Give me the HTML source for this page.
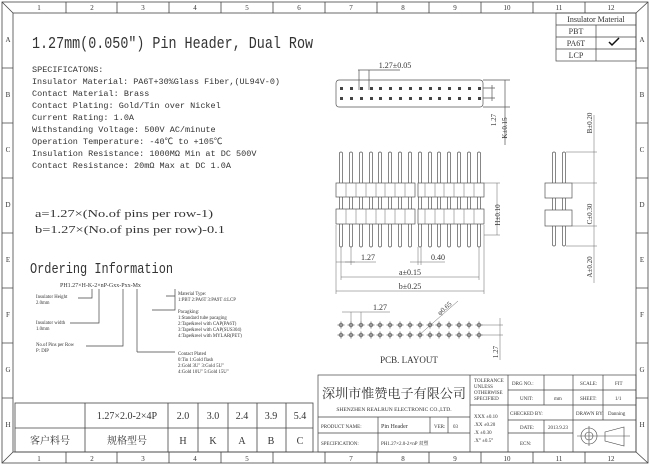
<!DOCTYPE html>
<html><head><meta charset="utf-8"><style>
html,body{margin:0;padding:0;background:#fff}
svg{display:block}
text{font-family:"Liberation Serif","Noto Serif CJK SC",serif;fill:#333}
.m{font-family:"Liberation Mono","Noto Sans CJK SC",monospace}
</style></head><body>
<svg width="650" height="465" viewBox="0 0 650 465" xmlns="http://www.w3.org/2000/svg">
<defs>
<g id="fp"><rect x="-1.5" y="152" width="3" height="95" rx="1.5" fill="#fff" stroke="#555" stroke-width="0.7"/></g>
<g id="cross" stroke="#555" stroke-width="0.7" fill="none"><circle r="1.8"/><line x1="-3.5" y1="0" x2="3.5" y2="0"/><line x1="0" y1="-3.5" x2="0" y2="3.5"/></g>
</defs>
<g fill="none" stroke="#444" stroke-width="0.8">
<rect x="2" y="2" width="646" height="461"/>
<rect x="13" y="13" width="623" height="439"/>
<line x1="2" y1="2" x2="13" y2="13"/><line x1="648" y1="2" x2="636" y2="13"/>
<line x1="2" y1="463" x2="13" y2="452"/><line x1="648" y1="463" x2="636" y2="452"/>
<path d="M66 2V13M117 2V13M169 2V13M221 2V13M273 2V13M325 2V13M377 2V13M429 2V13M481 2V13M533 2V13M585 2V13"/>
<path d="M66 452V463M117 452V463M169 452V463M221 452V463M273 452V463M325 452V463M377 452V463M429 452V463M481 452V463M533 452V463M585 452V463"/>
<path d="M2 68H13M2 123H13M2 178H13M2 233H13M2 288H13M2 343H13M2 398H13"/>
<path d="M636 68H648M636 123H648M636 178H648M636 233H648M636 288H648M636 343H648M636 398H648"/>
</g>
<g font-size="7" text-anchor="middle">
<text x="39" y="10">1</text><text x="92" y="10">2</text><text x="143" y="10">3</text><text x="195" y="10">4</text><text x="247" y="10">5</text><text x="299" y="10">6</text><text x="351" y="10">7</text><text x="403" y="10">8</text><text x="455" y="10">9</text><text x="507" y="10">10</text><text x="559" y="10">11</text><text x="611" y="10">12</text>
<text x="39" y="461">1</text><text x="92" y="461">2</text><text x="143" y="461">3</text><text x="195" y="461">4</text><text x="247" y="461">5</text><text x="351" y="461">7</text><text x="403" y="461">8</text><text x="455" y="461">9</text><text x="507" y="461">10</text><text x="559" y="461">11</text><text x="611" y="461">12</text>
<text x="8" y="42">A</text><text x="8" y="97">B</text><text x="8" y="152">C</text><text x="8" y="207">D</text><text x="8" y="262">E</text><text x="8" y="317">F</text><text x="8" y="372">G</text><text x="8" y="427">H</text>
<text x="642" y="42">A</text><text x="642" y="97">B</text><text x="642" y="152">C</text><text x="642" y="207">D</text><text x="642" y="262">E</text><text x="642" y="317">F</text><text x="642" y="372">G</text><text x="642" y="427">H</text>
</g>
<g fill="none" stroke="#444" stroke-width="0.7">
<rect x="556" y="13" width="80" height="48"/>
<path d="M556 25H636M556 37H636M556 49H636M596 25V61"/>
</g>
<g font-size="8" text-anchor="middle"><text x="596" y="22">Insulator Material</text><text x="576" y="34">PBT</text><text x="576" y="46">PA6T</text><text x="576" y="58">LCP</text></g>
<path d="M609 42l3 3 7-7" stroke="#111" stroke-width="1.5" fill="none"/>
<text x="32" y="48" font-size="17" class="m" textLength="281" lengthAdjust="spacingAndGlyphs">1.27mm(0.050″) Pin Header, Dual Row</text>
<g font-size="8.5" class="m">
<text x="32" y="72" class="m">SPECIFICATONS:</text>
<text x="32" y="84" class="m" textLength="248" lengthAdjust="spacingAndGlyphs">Insulator Material: PA6T+30%Glass Fiber,(UL94V-0)</text>
<text x="32" y="96" class="m">Contact Material: Brass</text>
<text x="32" y="108" class="m">Contact Plating: Gold/Tin over Nickel</text>
<text x="32" y="120" class="m">Current Rating: 1.0A</text>
<text x="32" y="132" class="m">Withstanding Voltage: 500V AC/minute</text>
<text x="32" y="144" class="m">Operation Temperature: -40℃ to +105℃</text>
<text x="32" y="156" class="m">Insulation Resistance: 1000MΩ Min at DC 500V</text>
<text x="32" y="168" class="m">Contact Resistance: 20mΩ Max at DC 1.0A</text>
</g>
<text x="35" y="217" font-size="11" textLength="178" lengthAdjust="spacingAndGlyphs">a=1.27×(No.of pins per row-1)</text>
<text x="35" y="233" font-size="11" textLength="190" lengthAdjust="spacingAndGlyphs">b=1.27×(No.of pins per row)-0.1</text>
<text x="30" y="273" font-size="15" class="m" textLength="143" lengthAdjust="spacingAndGlyphs">Ordering Information</text>
<g font-size="4.8">
<text x="60" y="287" font-size="6">PH1.27×H-K-2×nP-Gxx-Pxx-Mx</text>
<text x="36" y="298">Insulator Height</text><text x="36" y="304">2.0mm</text>
<text x="36" y="324">Insulator width</text><text x="36" y="330">1.0mm</text>
<text x="36" y="346">No.of Pins per Row</text><text x="36" y="352">P: DIP</text>
<text x="178" y="295">Material Type:</text><text x="178" y="301">1:PBT 2:PA6T 3:PA9T 4:LCP</text>
<text x="178" y="313">Pacagking:</text><text x="178" y="319">1:Standard tube pacaging</text><text x="178" y="325">2:Tape&amp;reel with CAP(PA6T)</text><text x="178" y="331">3:Tape&amp;reel with CAP(SUS304)</text><text x="178" y="337">4:Tape&amp;reel with MYLAR(PET)</text>
<text x="178" y="355">Contact Plated</text><text x="178" y="361">0:Tin      1:Gold flash</text><text x="178" y="367">2:Gold 3U"  3:Gold 5U"</text><text x="178" y="373">4:Gold 10U"  5:Gold 15U"</text>
</g>
<g fill="none" stroke="#444" stroke-width="0.7">
<path d="M78 298H92V289M70 323H99V289M86 346H123V289M137 352V289M137 352H175M152 310H175V289M166 296H175V289"/>
</g>
<g fill="none" stroke="#444" stroke-width="0.8">
<rect x="15" y="403" width="298" height="49"/>
<path d="M15 428H313M85 403V452M168 403V452M198 403V452M228 403V452M257 403V452M286 403V452"/>
</g>
<g font-size="10" text-anchor="middle">
<text x="127" y="419">1.27×2.0-2×4P</text><text x="183" y="419">2.0</text><text x="213" y="419">3.0</text><text x="242" y="419">2.4</text><text x="271" y="419">3.9</text><text x="300" y="419">5.4</text>
<text x="50" y="444">客户料号</text><text x="127" y="444">规格型号</text><text x="183" y="444">H</text><text x="213" y="444">K</text><text x="242" y="444">A</text><text x="271" y="444">B</text><text x="300" y="444">C</text>
</g>
<g stroke="#555" stroke-width="0.7" fill="none">
<rect x="336" y="80" width="147" height="27" rx="3"/>
<path d="M359 70V90M369 70V90M358 70H400M483 80H510M483 107H510M483 88H495M483 98H495M505 80V145M492 85V101"/>
</g>
<g fill="#444">
<rect x="340" y="87" width="3" height="3"/><rect x="350" y="87" width="3" height="3"/><rect x="360" y="87" width="3" height="3"/><rect x="370" y="87" width="3" height="3"/><rect x="379" y="87" width="3" height="3"/><rect x="389" y="87" width="3" height="3"/><rect x="399" y="87" width="3" height="3"/><rect x="409" y="87" width="3" height="3"/><rect x="419" y="87" width="3" height="3"/><rect x="429" y="87" width="3" height="3"/><rect x="438" y="87" width="3" height="3"/><rect x="448" y="87" width="3" height="3"/><rect x="458" y="87" width="3" height="3"/><rect x="468" y="87" width="3" height="3"/><rect x="478" y="87" width="3" height="3"/>
<rect x="340" y="97" width="3" height="3"/><rect x="350" y="97" width="3" height="3"/><rect x="360" y="97" width="3" height="3"/><rect x="370" y="97" width="3" height="3"/><rect x="379" y="97" width="3" height="3"/><rect x="389" y="97" width="3" height="3"/><rect x="399" y="97" width="3" height="3"/><rect x="409" y="97" width="3" height="3"/><rect x="419" y="97" width="3" height="3"/><rect x="429" y="97" width="3" height="3"/><rect x="438" y="97" width="3" height="3"/><rect x="448" y="97" width="3" height="3"/><rect x="458" y="97" width="3" height="3"/><rect x="468" y="97" width="3" height="3"/><rect x="478" y="97" width="3" height="3"/>
</g>
<text x="395" y="68" font-size="8" text-anchor="middle">1.27±0.05</text>
<text transform="translate(496,120) rotate(-90)" font-size="7" text-anchor="middle">1.27</text>
<text transform="translate(507,128) rotate(-90)" font-size="7" text-anchor="middle">K±0.15</text>
<use href="#fp" x="341"/><use href="#fp" x="351"/><use href="#fp" x="361"/><use href="#fp" x="371"/><use href="#fp" x="380"/><use href="#fp" x="390"/><use href="#fp" x="400"/><use href="#fp" x="410"/><use href="#fp" x="420"/><use href="#fp" x="430"/><use href="#fp" x="439"/><use href="#fp" x="449"/><use href="#fp" x="459"/><use href="#fp" x="469"/><use href="#fp" x="479"/>
<g fill="#fff" stroke="#555" stroke-width="0.7">
<rect x="336" y="183" width="79" height="14"/><rect x="418" y="183" width="66" height="14"/>
<rect x="336" y="209" width="79" height="15"/><rect x="418" y="209" width="66" height="15"/>
</g>
<g stroke="#666" stroke-width="0.5" fill="none">
<path d="M346 183V197M356 183V197M366 183V197M376 183V197M385 183V197M395 183V197M405 183V197M425 183V197M435 183V197M444 183V197M454 183V197M464 183V197M474 183V197"/>
<path d="M346 209V224M356 209V224M366 209V224M376 209V224M385 209V224M395 209V224M405 209V224M425 209V224M435 209V224M444 209V224M454 209V224M464 209V224M474 209V224"/>
<path d="M484 183H500M484 235H500M497 183V235"/>
<path d="M341 247V280M351 247V265M336 262H355M345 262H376M418 247V265M421 247V265M410 262H445M479 247V280M341 277H479M336 225V294M484 225V294M336 291H484"/>
</g>
<text transform="translate(500,215) rotate(-90)" font-size="7" text-anchor="middle">H±0.10</text>
<g font-size="8" text-anchor="middle"><text x="368" y="260">1.27</text><text x="438" y="260">0.40</text><text x="410" y="275">a±0.15</text><text x="410" y="289">b±0.25</text></g>
<g fill="#fff" stroke="#555" stroke-width="0.7">
<rect x="552.5" y="152" width="3" height="94" rx="1.5"/><rect x="562.5" y="152" width="3" height="94" rx="1.5"/>
<rect x="545" y="183" width="27" height="15"/><rect x="545" y="210" width="27" height="16"/>
</g>
<g stroke="#666" stroke-width="0.5" fill="none">
<path d="M594 115V283M566 152H597M572 183H597M572 226H597M566 246H597"/>
</g>
<g font-size="7" text-anchor="middle">
<text transform="translate(592,123) rotate(-90)">B±0.20</text>
<text transform="translate(592,214) rotate(-90)">C±0.30</text>
<text transform="translate(592,267) rotate(-90)">A±0.20</text>
</g>
<g>
<use href="#cross" x="341" y="325"/><use href="#cross" x="351" y="325"/><use href="#cross" x="361" y="325"/><use href="#cross" x="371" y="325"/><use href="#cross" x="380" y="325"/><use href="#cross" x="390" y="325"/><use href="#cross" x="400" y="325"/><use href="#cross" x="410" y="325"/><use href="#cross" x="420" y="325"/><use href="#cross" x="430" y="325"/><use href="#cross" x="439" y="325"/><use href="#cross" x="449" y="325"/><use href="#cross" x="459" y="325"/><use href="#cross" x="469" y="325"/><use href="#cross" x="479" y="325"/>
<use href="#cross" x="341" y="335"/><use href="#cross" x="351" y="335"/><use href="#cross" x="361" y="335"/><use href="#cross" x="371" y="335"/><use href="#cross" x="380" y="335"/><use href="#cross" x="390" y="335"/><use href="#cross" x="400" y="335"/><use href="#cross" x="410" y="335"/><use href="#cross" x="420" y="335"/><use href="#cross" x="430" y="335"/><use href="#cross" x="439" y="335"/><use href="#cross" x="449" y="335"/><use href="#cross" x="459" y="335"/><use href="#cross" x="469" y="335"/><use href="#cross" x="479" y="335"/>
</g>
<g stroke="#666" stroke-width="0.5" fill="none">
<path d="M351 312V322M361 312V322M342 312H390M479 325H503M479 335H503M500 318V360M418 336L458 301"/>
</g>
<text x="380" y="310" font-size="8" text-anchor="middle">1.27</text>
<text transform="translate(446,310) rotate(-42)" font-size="7" text-anchor="middle">φ0.65</text>
<text transform="translate(498,352) rotate(-90)" font-size="7" text-anchor="middle">1.27</text>
<text x="409" y="363" font-size="9" text-anchor="middle">PCB. LAYOUT</text>
<g fill="none" stroke="#444" stroke-width="0.7">
<rect x="318" y="375" width="318" height="77"/>
<path d="M318 417H470M318 433H470M378 417V452M430 417V433M448 417V433M470 375V452M470 405H508M508 375V452M508 390H636M508 405H636M508 420H573M508 433H573M544 375V405M544 420V452M573 375V452M603 375V420M573 420H636"/>
</g>
<text x="322" y="398" font-size="13" textLength="144" lengthAdjust="spacingAndGlyphs">深圳市惟赞电子有限公司</text>
<text x="394" y="411" font-size="5.5" text-anchor="middle">SHENZHEN REALRUN ELECTRONIC CO.,LTD.</text>
<g font-size="5">
<text x="321" y="428">PRODUCT NAME:</text><text x="381" y="428" font-size="6">Pin Header</text><text x="434" y="428">VER:</text><text x="453" y="428">03</text>
<text x="321" y="445">SPECIFICATION:</text><text x="381" y="445">PH1.27×2.0-2×nP 双塑</text>
<text x="474" y="382">TOLERANCE</text><text x="474" y="388">UNLESS</text><text x="474" y="394">OTHERWISE</text><text x="474" y="400">SPECIFIED</text>
<text x="474" y="418">XXX ±0.10</text><text x="474" y="426">.XX ±0.20</text><text x="474" y="434">.X  ±0.30</text><text x="474" y="442">.X° ±0.5°</text>
<text x="512" y="385">DRG NO.:</text><text x="520" y="400">UNIT:</text><text x="554" y="400">mm</text>
<text x="580" y="385">SCALE:</text><text x="615" y="385">FIT</text><text x="580" y="400">SHEET:</text><text x="615" y="400">1/1</text>
<text x="510" y="415">CHECKED BY:</text><text x="576" y="415">DRAWN BY:</text><text x="608" y="415">Danning</text>
<text x="520" y="429">DATE:</text><text x="548" y="429">2013.9.23</text><text x="520" y="445">ECN:</text>
</g>
<g fill="none" stroke="#444" stroke-width="0.6">
<circle cx="589" cy="436" r="8"/><circle cx="589" cy="436" r="4"/><path d="M577 436H601M589 426V446M605 432L624 427V446L605 441ZM600 436H630"/>
</g>
</svg>
</body></html>
